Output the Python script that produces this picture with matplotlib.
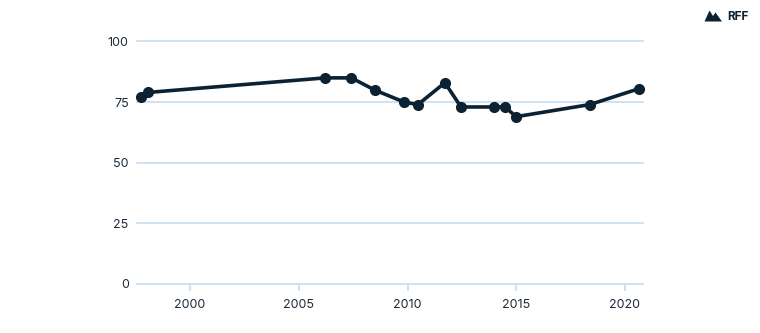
import matplotlib
matplotlib.use("Agg")
import matplotlib.pyplot as plt
from matplotlib.patches import Polygon

plt.rcParams['font.family'] = ['Inter', 'DejaVu Sans']

# Survey years (fractional, by release date) and values
years = [1997.73, 1998.08, 2006.21, 2007.42, 2008.49, 2009.85, 2010.48,
         2011.72, 2012.46, 2013.96, 2014.48, 2015.0, 2018.39, 2020.63]
values = [77, 79, 85, 85, 80, 75, 74, 83, 73, 73, 73, 69, 74, 80.5]

x_ticks = [2000, 2005, 2010, 2015, 2020]
y_ticks = [0, 25, 50, 75, 100]

TEXT = '#1c2b3a'
GRID = '#c8e0f4'
LINE = '#0c2233'

fig = plt.figure(figsize=(7.6, 3.33), dpi=100)
ax = fig.add_axes([137 / 760, 1 - 284 / 333, (643 - 137) / 760, (284 - 41.5) / 333])

ax.plot(years, values, color=LINE, lw=2.6, marker='o', ms=7,
        solid_joinstyle='round', zorder=3, clip_on=False)

ax.set_xlim(1997.56, 2020.83)
ax.set_ylim(0, 100)
ax.set_xticks(x_ticks)
ax.set_yticks(y_ticks)
ax.set_xticklabels([str(t) for t in x_ticks])
ax.set_yticklabels([str(t) for t in y_ticks])

for s in ax.spines.values():
    s.set_visible(False)
ax.grid(axis='y', color=GRID, lw=1.3, zorder=0)
for gl in ax.get_ygridlines():
    gl.set_clip_on(False)
ax.set_axisbelow(True)
ax.tick_params(axis='y', length=0, pad=6, labelsize=9, labelcolor=TEXT)
ax.tick_params(axis='x', length=5, width=1.3, color=GRID, pad=6,
               labelsize=9, labelcolor=TEXT)

# RFF mark in the top-right corner
def px(x, y):
    return (x / 760, 1 - y / 333)

mountain = Polygon([px(704.5, 21.5), px(709.5, 10.5), px(713, 16),
                    px(715.5, 12.5), px(722, 21.5)],
                   closed=True, transform=fig.transFigure,
                   facecolor=LINE, edgecolor='none')
fig.patches.append(mountain)
fig.text(727 / 760, 1 - 16.5 / 333, 'RFF', fontsize=8.5, fontweight='bold',
         color=LINE, ha='left', va='center')

fig.savefig('out.png', dpi=100)
